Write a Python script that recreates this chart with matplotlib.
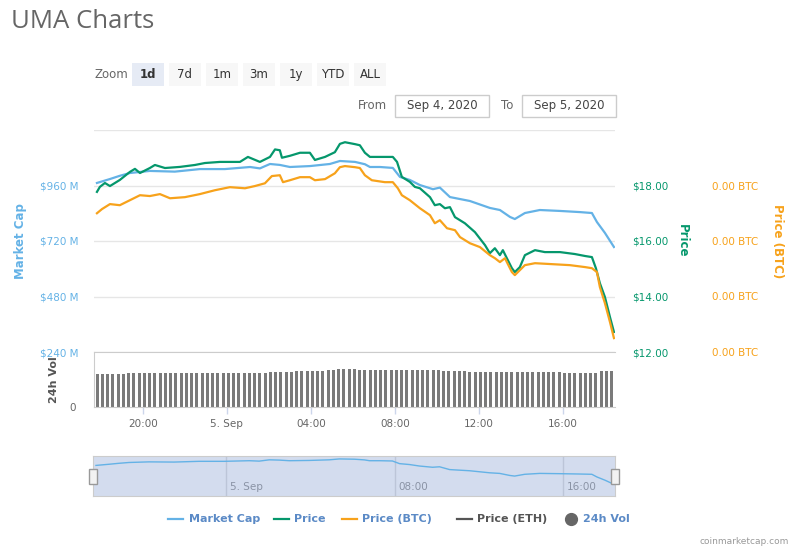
import matplotlib
matplotlib.use("Agg")
import matplotlib.pyplot as plt
import matplotlib.dates as mdates
from matplotlib.patches import Rectangle
from matplotlib.lines import Line2D
import numpy as np
import pandas as pd

day0 = pd.Timestamp("2020-09-04")

# times are hours after 4 Sep 2020 00:00
mc_hours = [17.81, 18.43, 18.90, 19.38, 20.33, 21.52, 22.71, 23.90, 25.10, 25.57,
            26.05, 26.52, 27.00, 27.95, 28.90, 29.38, 30.10, 30.57, 30.81, 31.29,
            31.90, 32.24, 32.71, 33.19, 33.81, 34.14, 34.62, 35.57, 36.52, 37.00,
            37.48, 37.71, 38.19, 38.90, 39.86, 40.81, 41.38, 41.62, 42.00, 42.43]
market_cap = [971, 988, 1002, 1014, 1023, 1020, 1031, 1031, 1040, 1034,
              1053, 1049, 1040, 1044, 1053, 1066, 1062, 1052, 1040, 1040,
              1036, 997, 984, 962, 944, 951, 910, 893, 863, 854,
              824, 815, 841, 854, 850, 845, 841, 802, 755, 694]  # $M

price_hours = [17.81, 17.95, 18.19, 18.43, 18.90, 19.38, 19.62, 19.86, 20.33, 20.57,
               21.05, 21.76, 22.48, 22.95, 23.67, 24.62, 25.00, 25.57, 26.05, 26.29,
               26.52, 26.62, 27.00, 27.48, 27.95, 28.19, 28.67, 29.14, 29.38, 29.62,
               30.10, 30.33, 30.57, 30.81, 31.29, 31.90, 32.10, 32.33, 32.71, 32.95,
               33.19, 33.67, 33.90, 34.14, 34.38, 34.62, 34.86, 35.33, 35.81, 36.29,
               36.52, 36.76, 37.00, 37.14, 37.33, 37.57, 37.71, 37.95, 38.19, 38.67,
               39.14, 39.86, 40.57, 41.05, 41.38, 41.57, 41.76, 42.00, 42.24, 42.43]
price = [17.77, 17.95, 18.09, 17.98, 18.20, 18.49, 18.60, 18.45, 18.63, 18.74,
         18.63, 18.67, 18.74, 18.81, 18.85, 18.85, 19.03, 18.85, 19.03, 19.30,
         19.27, 19.00, 19.07, 19.18, 19.18, 18.92, 19.03, 19.20, 19.50, 19.56,
         19.49, 19.45, 19.18, 19.03, 19.03, 19.03, 18.85, 18.31, 18.13, 17.95,
         17.90, 17.58, 17.29, 17.33, 17.18, 17.22, 16.86, 16.64, 16.32, 15.85,
         15.56, 15.74, 15.49, 15.67, 15.38, 15.02, 14.88, 15.06, 15.49, 15.67,
         15.60, 15.60, 15.53, 15.46, 15.42, 15.02, 14.48, 13.98, 13.26, 12.72]

btc_hours = [17.81, 18.05, 18.43, 18.90, 19.38, 19.86, 20.33, 20.81, 21.29, 22.00,
             22.71, 23.43, 24.14, 24.86, 25.33, 25.81, 26.14, 26.52, 26.67, 27.00,
             27.48, 27.95, 28.19, 28.67, 29.14, 29.38, 29.62, 30.10, 30.33, 30.57,
             30.90, 31.52, 31.90, 32.14, 32.33, 32.71, 33.19, 33.67, 33.90, 34.14,
             34.48, 34.86, 35.10, 35.57, 36.05, 36.52, 36.76, 37.00, 37.24, 37.33,
             37.57, 37.71, 37.95, 38.19, 38.67, 39.38, 40.33, 41.05, 41.38, 41.62,
             41.76, 42.00, 42.24, 42.43]
price_btc = [0.001700, 0.001715, 0.001733, 0.001729, 0.001747, 0.001765, 0.001762, 0.001769, 0.001754, 0.001758,
             0.001769, 0.001783, 0.001794, 0.001790, 0.001798, 0.001808, 0.001834, 0.001837, 0.001812, 0.001819,
             0.001830, 0.001830, 0.001819, 0.001823, 0.001844, 0.001866, 0.001870, 0.001866, 0.001863, 0.001837,
             0.001819, 0.001812, 0.001812, 0.001790, 0.001765, 0.001747, 0.001718, 0.001693, 0.001664, 0.001675,
             0.001646, 0.001639, 0.001614, 0.001592, 0.001578, 0.001549, 0.001538, 0.001524, 0.001538, 0.001524,
             0.001488, 0.001477, 0.001495, 0.001513, 0.001520, 0.001517, 0.001513, 0.001506, 0.001502, 0.001488,
             0.001434, 0.001376, 0.001308, 0.001250]

# 24h volume, one bar per 15 minutes from 4 Sep 17:45
vol_start = pd.Timestamp("2020-09-04 17:45")
volume = [60, 60, 60, 60, 60, 60,
          61, 62, 62, 62, 61, 62, 62, 62, 62, 61, 62, 62, 62, 62,
          62, 61, 62, 62, 62, 62, 62, 61, 62, 62, 62, 62, 62,
          64, 64, 64, 64, 64,
          65, 65, 66, 66, 65, 66,
          68, 68,
          69, 69, 69, 69,
          68, 68,
          67, 67, 67, 67,
          67, 67, 67, 67, 67, 67, 67, 67, 67, 67,
          65, 65, 65, 65, 65,
          64, 64, 64, 64, 64, 64,
          63, 63,
          64, 64,
          63, 63, 63, 63, 63, 63, 63, 63,
          61, 61, 61, 61, 61,
          61, 61,
          66, 66, 65]

mc_t = (day0 + pd.to_timedelta(mc_hours, unit="h")).to_numpy()
price_t = (day0 + pd.to_timedelta(price_hours, unit="h")).to_numpy()
btc_t = (day0 + pd.to_timedelta(btc_hours, unit="h")).to_numpy()
vol_t = (vol_start + pd.to_timedelta(np.arange(len(volume)) * 15, unit="min")).to_numpy()
x_lo = day0 + pd.Timedelta(hours=17.67)
x_hi = day0 + pd.Timedelta(hours=42.48)

BLUE = "#64b2e6"
GREEN = "#05976c"
ORANGE = "#f7a21b"
LEG_BLUE = "#5b8ac6"
GRID = "#e6e6e6"

W, H = 800, 550
fig = plt.figure(figsize=(8, 5.5), dpi=100)
plt.rcParams['font.family'] = ['DejaVu Sans']


def fx(x):
    return x / W


def fy(y):
    return 1 - y / H


def box(x0, y0, x1, y1, **kw):
    fig.patches.append(Rectangle((fx(x0), fy(y1)), (x1 - x0) / W, (y1 - y0) / H,
                                 transform=fig.transFigure, **kw))


def timefmt(x, pos=None):
    d = mdates.num2date(x)
    if d.hour == 0:
        return f"{d.day}. {d:%b}"
    return d.strftime("%H:%M")


# header
fig.text(fx(11), fy(22), "UMA Charts", family="Open Sans", fontsize=18.5,
         color="#666666", va="center", ha="left")
fig.text(fx(128), fy(74.5), "Zoom", fontsize=8.5, color="#666666", ha="right", va="center")
buttons = ["1d", "7d", "1m", "3m", "1y", "YTD", "ALL"]
for i, b in enumerate(buttons):
    x0 = 132 + i * 37
    box(x0, 63, x0 + 32, 86, facecolor="#e6ebf5" if i == 0 else "#f7f7f7",
        edgecolor="none")
    fig.text(fx(x0 + 16), fy(74.5), b, fontsize=8.5, color="#333333",
             fontweight="bold" if i == 0 else "normal", ha="center", va="center")

fig.text(fx(387), fy(105.5), "From", fontsize=8.5, color="#666666", ha="right", va="center")
box(395, 95, 489, 117, facecolor="white", edgecolor="#cccccc", lw=1)
fig.text(fx(442), fy(106), "Sep 4, 2020", fontsize=8.5, color="#444444", ha="center", va="center")
fig.text(fx(513), fy(105.5), "To", fontsize=8.5, color="#666666", ha="right", va="center")
box(522, 95, 616, 117, facecolor="white", edgecolor="#cccccc", lw=1)
fig.text(fx(569), fy(106), "Sep 5, 2020", fontsize=8.5, color="#444444", ha="center", va="center")

# main panel
ax = fig.add_axes([fx(94), fy(352), 521 / W, 222 / H])
ax_vol = fig.add_axes([fx(94), fy(407), 521 / W, 55 / H], sharex=ax)
ax_nav = fig.add_axes([fx(93), fy(496), 522 / W, 40 / H])

ax.plot(mc_t, market_cap, color=BLUE, lw=1.6, zorder=3)
ax.set_xlim(x_lo, x_hi)
ax.set_ylim(240, 1200)
ax.set_yticks([240, 480, 720, 960, 1200])
ax.set_yticklabels(["$240 M", "$480 M", "$720 M", "$960 M", ""])
ax.grid(axis="y", color=GRID, lw=1)
ax.tick_params(axis="y", length=0, pad=11.5, labelsize=7.5, labelcolor=BLUE)
ax.tick_params(axis="x", length=0, labelbottom=False)
for s in ax.spines.values():
    s.set_visible(False)
ax.set_ylabel("Market Cap", color=BLUE, fontsize=8.5, fontweight="bold")
ax.yaxis.set_label_coords(-0.128, 0.5)

ax_p = ax.twinx()
ax_p.plot(price_t, price, color=GREEN, lw=1.6, zorder=4)
ax_p.set_ylim(12, 20)
ax_p.set_yticks([12, 14, 16, 18])
ax_p.set_yticklabels([f"${v:.2f}" for v in [12, 14, 16, 18]])
ax_p.tick_params(axis="y", length=0, pad=12, labelsize=7.5, labelcolor=GREEN)
for s in ax_p.spines.values():
    s.set_visible(False)
ax_p.set_ylabel("Price", color=GREEN, fontsize=8.5, fontweight="bold", rotation=270)
ax_p.yaxis.set_label_coords(1.142, 0.5)

ax_b = ax.twinx()
ax_b.plot(btc_t, price_btc, color=ORANGE, lw=1.6, zorder=2)
ax_b.set_ylim(0.0012, 0.0020)
ax_b.set_yticks([0.0012, 0.0014, 0.0016, 0.0018])
ax_b.set_yticklabels([f"{v:.2f} BTC" for v in [0.0012, 0.0014, 0.0016, 0.0018]])
ax_b.tick_params(axis="y", length=0, pad=70, labelsize=7.5, labelcolor=ORANGE)
for s in ax_b.spines.values():
    s.set_visible(False)
ax_b.set_ylabel("Price (BTC)", color=ORANGE, fontsize=8.5, fontweight="bold", rotation=270)
ax_b.yaxis.set_label_coords(1.3245, 0.5)

# volume panel
ax_vol.bar(vol_t, volume, width=15 / 1440 * 0.55, color="#7a7a7a", align="edge")
ax_vol.set_ylim(0, 100)
ax_vol.set_yticks([0])
ax_vol.tick_params(axis="y", length=0, pad=13, labelsize=7.5, labelcolor="#666666")
ax_vol.xaxis.set_major_locator(mdates.HourLocator(byhour=[0, 4, 8, 12, 16, 20]))
ax_vol.xaxis.set_major_formatter(plt.FuncFormatter(timefmt))
ax_vol.tick_params(axis="x", length=5, width=1, color="#ccd6eb", pad=3.5,
                   labelsize=7.5, labelcolor="#666666")
ax_vol.spines["right"].set_visible(False)
for k in ["left", "top", "bottom"]:
    ax_vol.spines[k].set_color("#cccccc")
ax_vol.set_ylabel("24h Vol", color="#555555", fontsize=8, fontweight="bold")
ax_vol.yaxis.set_label_coords(-0.067, 0.5)

# navigator
ax_nav.set_facecolor("#d3dcee")
ax_nav.plot(mc_t, market_cap, color=BLUE, lw=1)
ax_nav.set_xlim(x_lo, x_hi)
ax_nav.set_ylim(523, 1109)
ax_nav.set_xticks([])
ax_nav.set_yticks([])
for s in ax_nav.spines.values():
    s.set_color("#cccccc")
for h in [24, 32, 40]:
    t = day0 + pd.Timedelta(hours=h)
    ax_nav.axvline(t, color="#bcc5d8", lw=1, zorder=0)
    ax_nav.annotate(timefmt(mdates.date2num(t)), (mdates.date2num(t), 0),
                    xycoords=("data", "axes fraction"), xytext=(3, 3),
                    textcoords="offset points", fontsize=7.5, color="#8a93a5",
                    ha="left", va="bottom")
for hx in [93, 615]:
    box(hx - 4, 469, hx + 4, 484, facecolor="#f2f2f2", edgecolor="#999999", lw=1, zorder=5)
    fig.lines.append(Line2D([fx(hx - 1), fx(hx - 1)], [fy(472), fy(481)],
                            transform=fig.transFigure, color="#888888", lw=0.8))
    fig.lines.append(Line2D([fx(hx + 1), fx(hx + 1)], [fy(472), fy(481)],
                            transform=fig.transFigure, color="#888888", lw=0.8))

# legend
leg_y = 519
legend_items = [("Market Cap", BLUE, 168, 189, LEG_BLUE),
                ("Price", GREEN, 274, 294, LEG_BLUE),
                ("Price (BTC)", ORANGE, 342, 362, LEG_BLUE),
                ("Price (ETH)", "#555555", 457, 477, "#555555")]
for label, col, lx, tx, tcol in legend_items:
    fig.lines.append(Line2D([fx(lx), fx(lx + 15)], [fy(leg_y), fy(leg_y)],
                            transform=fig.transFigure, color=col, lw=1.6))
    fig.text(fx(tx), fy(leg_y), label, fontsize=8, fontweight="bold", color=tcol,
             ha="left", va="center")
fig.lines.append(Line2D([fx(571)], [fy(leg_y)], transform=fig.transFigure,
                        marker="o", markersize=8.5, color="#666666", lw=0))
fig.text(fx(583), fy(leg_y), "24h Vol", fontsize=8, fontweight="bold", color=LEG_BLUE,
         ha="left", va="center")

fig.text(fx(789), fy(541), "coinmarketcap.com", fontsize=6.5, color="#999999",
         ha="right", va="center")

fig.savefig("out.png", dpi=100)
